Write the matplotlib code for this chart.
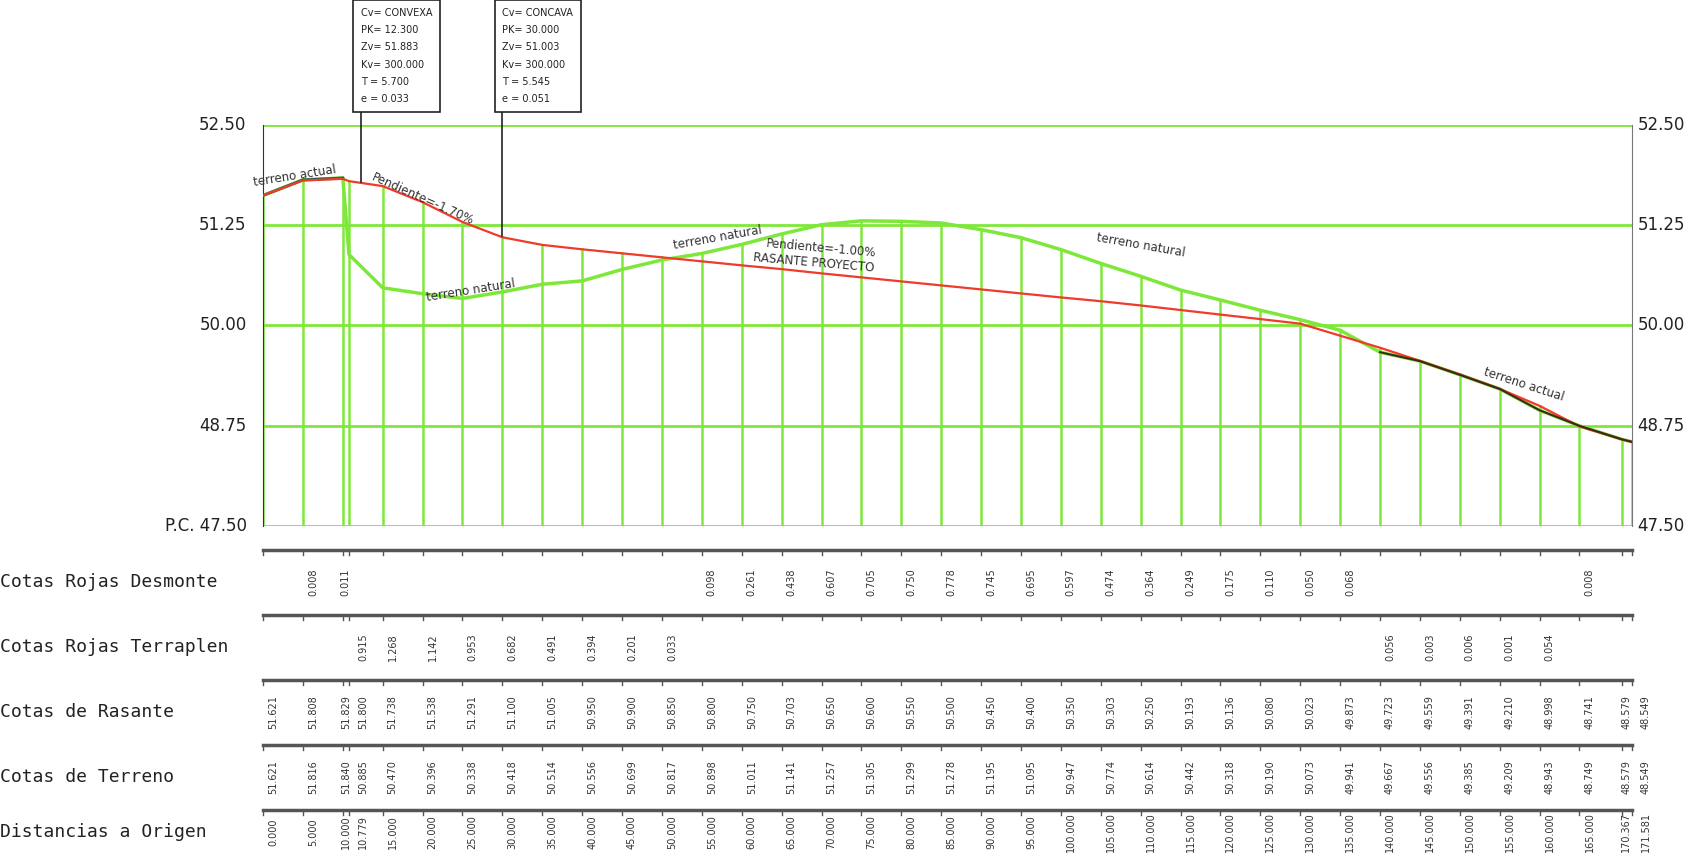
import matplotlib
matplotlib.use("Agg")
import matplotlib.pyplot as plt
import matplotlib.transforms as mtransforms

dist = [0, 5, 10, 10.779, 15, 20, 25, 30, 35, 40, 45, 50, 55, 60, 65, 70, 75, 80, 85, 90,
        95, 100, 105, 110, 115, 120, 125, 130, 135, 140, 145, 150, 155, 160, 165, 170.367, 171.581]
dist_labels = ["0.000", "5.000", "10.000", "10.779", "15.000", "20.000", "25.000", "30.000", "35.000",
               "40.000", "45.000", "50.000", "55.000", "60.000", "65.000", "70.000", "75.000", "80.000",
               "85.000", "90.000", "95.000", "100.000", "105.000", "110.000", "115.000", "120.000",
               "125.000", "130.000", "135.000", "140.000", "145.000", "150.000", "155.000", "160.000",
               "165.000", "170.367", "171.581"]
rasante = [51.621, 51.808, 51.829, 51.800, 51.738, 51.538, 51.291, 51.100, 51.005, 50.950, 50.900,
           50.850, 50.800, 50.750, 50.703, 50.650, 50.600, 50.550, 50.500, 50.450, 50.400, 50.350,
           50.303, 50.250, 50.193, 50.136, 50.080, 50.023, 49.873, 49.723, 49.559, 49.391, 49.210,
           48.998, 48.741, 48.579, 48.549]
terreno = [51.621, 51.816, 51.840, 50.885, 50.470, 50.396, 50.338, 50.418, 50.514, 50.556, 50.699,
           50.817, 50.898, 51.011, 51.141, 51.257, 51.305, 51.299, 51.278, 51.195, 51.095, 50.947,
           50.774, 50.614, 50.442, 50.318, 50.190, 50.073, 49.941, 49.667, 49.556, 49.385, 49.209,
           48.943, 48.749, 48.579, 48.549]
desmonte = [None, "0.008", "0.011", None, None, None, None, None, None, None, None, None, "0.098",
            "0.261", "0.438", "0.607", "0.705", "0.750", "0.778", "0.745", "0.695", "0.597", "0.474",
            "0.364", "0.249", "0.175", "0.110", "0.050", "0.068", None, None, None, None, None,
            "0.008", None, None]
terraplen = [None, None, None, "0.915", "1.268", "1.142", "0.953", "0.682", "0.491", "0.394", "0.201",
             "0.033", None, None, None, None, None, None, None, None, None, None, None, None, None,
             None, None, None, None, "0.056", "0.003", "0.006", "0.001", "0.054", None, None, None]
yticks = [47.50, 48.75, 50.00, 51.25, 52.50]
row_names = ["Cotas Rojas Desmonte", "Cotas Rojas Terraplen", "Cotas de Rasante",
             "Cotas de Terreno", "Distancias a Origen"]
box1 = ["Cv= CONVEXA", "PK= 12.300", "Zv= 51.883", "Kv= 300.000", "T = 5.700", "e = 0.033"]
box2 = ["Cv= CONCAVA", "PK= 30.000", "Zv= 51.003", "Kv= 300.000", "T = 5.545", "e = 0.051"]

W, H = 1700, 856
fig = plt.figure(figsize=(W / 100, H / 100), dpi=100)
x0, x1, ytop, ybot = 263, 1632, 125, 526
ax = fig.add_axes([x0 / W, 1 - ybot / H, (x1 - x0) / W, (ybot - ytop) / H])
ax.set_xlim(0, dist[-1])
ax.set_ylim(47.5, 52.5)
for s in ["top", "bottom"]:
    ax.spines[s].set_visible(False)
ax.spines["left"].set_color("#333333")
ax.spines["right"].set_color("#777777")
ax.set_xticks([])
ax.set_yticks([])
green = "#7ee83a"
for yv in yticks:
    ax.axhline(yv, color=green, lw=2, zorder=1)
    lab = f"{yv:.2f}"
    ax.text(-0.012, yv, ("P.C. " if yv == 47.5 else "") + lab, transform=ax.get_yaxis_transform(),
            ha="right", va="center", fontsize=12, color="#222222")
    ax.text(1.004, yv, lab, transform=ax.get_yaxis_transform(), ha="left", va="center",
            fontsize=12, color="#222222")
for d, r, t in zip(dist, rasante, terreno):
    ax.plot([d, d], [47.5, max(r, t)], color=green, lw=1.8, zorder=1)
ax.plot(dist, terreno, color=green, lw=2.5, zorder=2)
ax.plot(dist[:3], terreno[:3], color="#2f5f5a", lw=2, zorder=3)
ax.plot(dist[-8:], terreno[-8:], color="#3a2a1a", lw=1.5, zorder=4)
ax.plot(dist, rasante, color="#f03a2a", lw=1.6, zorder=3)

lab_kw = dict(fontsize=8.5, color="#333333", ha="center", va="center", zorder=5)
ax.text(4, 51.86, "terreno actual", rotation=9, **lab_kw)
ax.text(20, 51.58, "Pendiente=-1.70%", rotation=-24, **lab_kw)
ax.text(26, 50.43, "terreno natural", rotation=9, **lab_kw)
ax.text(57, 51.1, "terreno natural", rotation=10, **lab_kw)
ax.text(70, 50.96, "Pendiente=-1.00%", rotation=-5, **lab_kw)
ax.text(69, 50.78, "RASANTE PROYECTO", rotation=-5, **lab_kw)
ax.text(110, 51.0, "terreno natural", rotation=-10, **lab_kw)
ax.text(158, 49.26, "terreno actual", rotation=-18, **lab_kw)

# vertex boxes
bt = mtransforms.blended_transform_factory(ax.transData, fig.transFigure)
for pk, zv, box in [(12.3, 51.79, box1), (30.0, 51.12, box2)]:
    ax.plot([pk, pk], [zv, 53.4], color="#222222", lw=1.2, clip_on=False, zorder=5)
    fig.text(pk, 1 - 104 / H, "\n".join(box), transform=bt, fontsize=7, va="bottom", ha="left",
             linespacing=1.9, color="#222222",
             bbox=dict(boxstyle="square,pad=0.8", fc="white", ec="#222222", lw=1.2))

# table
line_ys = [550, 615, 680, 745, 810]
text_ys = [582, 647, 712, 777, 832]
rows = [desmonte, terraplen, [f"{v:.3f}" for v in rasante], [f"{v:.3f}" for v in terreno], dist_labels]
for ly, ty, name, vals in zip(line_ys, text_ys, row_names, rows):
    fig.add_artist(plt.Line2D([x0 / W, x1 / W], [1 - ly / H] * 2, color="#555555", lw=2.5))
    fig.text(0.0, 1 - ty / H, name, ha="left", va="center", fontsize=13, color="#222222",
             family="DejaVu Sans Mono")
    for i, (d, v) in enumerate(zip(dist, vals)):
        fig.add_artist(plt.Line2D([d, d], [1 - ly / H, 1 - (ly + 5) / H], transform=bt,
                                  color="#555555", lw=1))
        if v is None:
            continue
        dx = {2: 3, 3: 14, 35: 4, 36: 14}.get(i, 10)
        off = mtransforms.ScaledTranslation(dx / 100, 0, fig.dpi_scale_trans)
        fig.text(d, 1 - ty / H, v, transform=bt + off, rotation=90, ha="center", va="center",
                 fontsize=7, color="#333333")

fig.savefig("out.png", dpi=100, facecolor="white")
